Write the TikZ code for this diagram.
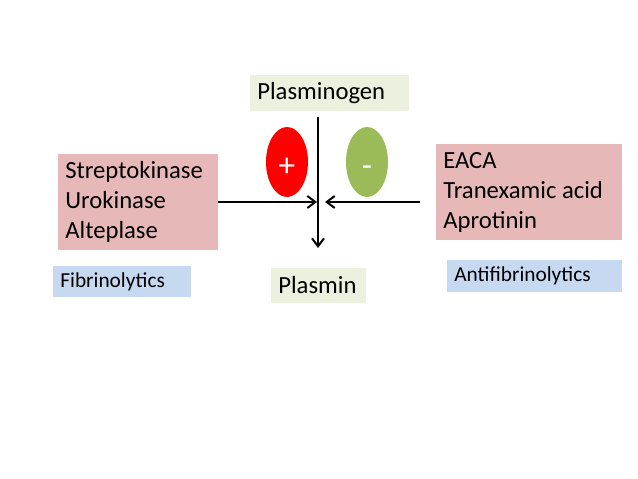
\documentclass[tikz,border=0pt]{standalone}
\usepackage{fontspec}
\setmainfont{Carlito}
\usetikzlibrary{arrows.meta,shapes.geometric}
\definecolor{pinkbox}{HTML}{E6B9B8}
\definecolor{greenbox}{HTML}{EBF1DE}
\definecolor{bluebox}{HTML}{C6D9F1}
\definecolor{plusred}{HTML}{FF0000}
\definecolor{minusgreen}{HTML}{9BBB59}
\begin{document}
\begin{tikzpicture}[x=0.75pt,y=-0.75pt,
  txtbox/.style={rectangle, inner xsep=5.5pt, inner ysep=0pt, align=flush left, anchor=center},
  bigfont/.style={font=\fontsize{18.5}{22.5}\selectfont},
  smallfont/.style={font=\fontsize{16}{19}\selectfont},
  blob/.style={ellipse, minimum width=31.5pt, minimum height=52.5pt, inner sep=0pt, text=white,
    font=\fontsize{25}{27}\selectfont, text height=21.5pt, text depth=0pt},
  conn/.style={line width=1.5pt, black},
  tip/.style={-{Straight Barb[length=6pt,width=9pt,line width=1.5pt]}}
]
\useasboundingbox (0,0) rectangle (638,478);
\fill[white] (0,0) rectangle (638,478);

\node[txtbox, bigfont, fill=pinkbox, text width=109pt, minimum height=72pt] (lb) at (138,202) {Streptokinase\\Urokinase\\Alteplase};
\node[txtbox, bigfont, fill=pinkbox, text width=128.5pt, minimum height=72pt] (rb) at (529,192) {EACA\\Tranexamic acid\\Aprotinin};
\node[txtbox, bigfont, fill=greenbox, text width=108.25pt, minimum height=27pt] (pg) at (329.5,93) {Plasminogen};
\node[txtbox, bigfont, fill=greenbox, text width=60.25pt, minimum height=26.25pt] (pm) at (318.5,285) {Plasmin};
\node[txtbox, smallfont, fill=bluebox, text width=92.5pt, minimum height=23.25pt] (fb) at (122,281.5) {Fibrinolytics};
\node[txtbox, smallfont, fill=bluebox, text width=120.25pt, minimum height=24pt] (af) at (534.5,276) {Antifibrinolytics};

\node[blob, fill=plusred] (plus) at (287,162) {+};
\node[blob, fill=minusgreen] (minus) at (367,162) {-};

\coordinate (vtop) at (318,117);
\coordinate (vbot) at (318,248);
\coordinate (lend) at (317,202);
\coordinate (rstart) at (420,202);
\coordinate (rend) at (325,202);
\coordinate (lstart) at (218,202);

\draw[conn, tip] (vtop) -- (vbot);
\draw[conn, tip] (lstart) -- (lend);
\draw[conn, tip] (rstart) -- (rend);
\end{tikzpicture}
\end{document}
